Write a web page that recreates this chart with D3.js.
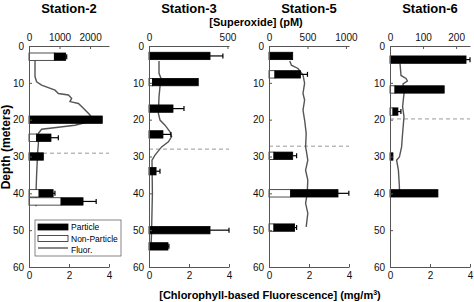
<!DOCTYPE html>
<html>
<head>
<meta charset="utf-8">
<script src="https://cdn.jsdelivr.net/npm/d3@7"></script>
<style>
  body { margin: 0; background: #fff; }
  svg text { font-family: "Liberation Sans", Arial, Helvetica, sans-serif; }
</style>
</head>
<body>
<svg id="chart" width="474" height="302"></svg>
<script>
// station names + superoxide axis range / ticks (pM)
const stationNames = ["Station-2", "Station-3", "Station-5", "Station-6"];
const soxMax = [2620, 510, 1040, 242];
const soxTicks = [[0, 1000, 2000], [0, 500], [0, 500, 1000], [0, 100, 200]];
const fluorTicks = [0, 2, 4];
const depthTicks = [0, 10, 20, 30, 40, 50, 60];

// superoxide bars: depth (m), non-particle, particle, error (pM)
const st2Depth = [2.9, 20, 24.9, 30, 40, 42.2];
const st2NonPart = [830, 0, 250, 0, 330, 1050];
const st2Part = [370, 2400, 470, 470, 460, 720];
const st2Err = [35, 0, 240, 0, 60, 430];

const st3Depth = [2.7, 9.8, 17, 24, 34, 50, 54.4];
const st3NonPart = [0, 22, 0, 0, 0, 0, 0];
const st3Part = [389, 292, 153, 89, 45, 389, 121];
const st3Err = [82, 0, 70, 51, 25, 121, 6];

const st5Depth = [2.7, 7.7, 29.8, 40, 49.3];
const st5NonPart = [0, 77, 64, 282, 64];
const st5Part = [308, 333, 244, 615, 269];
const st5Err = [0, 90, 51, 141, 26];

const st6Depth = [3.7, 11.8, 17.8, 30, 40];
const st6NonPart = [0, 15, 9, 0, 0];
const st6Part = [230, 149, 15, 9, 145];
const st6Err = [12, 0, 9, 0, 0];

// chlorophyll fluorescence profiles (mg/m3)
const fl2Depth = [4.0, 8.3, 9.7, 10.6, 12, 12.9, 13.3, 14.2, 15.1, 15.6, 16.9, 18.75, 19.4, 20.6, 21.5, 22.6, 23.7, 26.4, 29.1, 35, 40, 43.5];
const fl2Val = [0.3, 0.3, 0.38, 0.63, 1.3, 1.47, 1.97, 2.13, 2.05, 2.47, 2.72, 3.05, 3.13, 2.97, 2.3, 0.63, 0.47, 0.47, 0.43, 0.38, 0.35, 0.35];

const fl3Depth = [4.1, 7.4, 8.8, 11, 13.8, 18.3, 20.1, 21.5, 23.3, 24.6, 26, 27.4, 29.6, 31, 40, 50, 55];
const fl3Val = [0.5, 0.5, 0.6, 0.55, 0.5, 0.47, 0.55, 0.8, 1.05, 1.13, 0.97, 0.63, 0.3, 0.15, 0.17, 0.13, 0.1];

const fl5Depth = [4.1, 5.2, 6.1, 7.9, 10.1, 12.9, 14.7, 17.4, 20.1, 23.7, 27.4, 28.3, 31, 33.7, 36.4, 40, 42.7, 45.4, 49.1];
const fl5Val = [1.04, 1.12, 1.45, 1.7, 1.78, 1.7, 1.78, 1.7, 1.78, 1.86, 1.83, 1.86, 1.94, 1.83, 1.94, 1.91, 1.83, 1.94, 1.86];

const fl6Depth = [4.7, 8.0, 8.8, 9.5, 10.3, 12.9, 16.5, 19.2, 23.7, 27.4, 30.1, 31, 33.7, 38.2, 40];
const fl6Val = [0.5, 0.55, 0.8, 0.87, 0.65, 0.7, 0.63, 0.7, 0.63, 0.58, 0.47, 0.33, 0.42, 0.47, 0.47];

// depth of the dashed line in each panel
const mixedDepth = [29.1, 28, 27.2, 19.8];

const barDepths = [st2Depth, st3Depth, st5Depth, st6Depth];
const nonParts = [st2NonPart, st3NonPart, st5NonPart, st6NonPart];
const parts = [st2Part, st3Part, st5Part, st6Part];
const errs = [st2Err, st3Err, st5Err, st6Err];
const flDepths = [fl2Depth, fl3Depth, fl5Depth, fl6Depth];
const flVals = [fl2Val, fl3Val, fl5Val, fl6Val];

const svg = d3.select("#chart");
const plotTop = 46, plotBottom = 267;
const panelLeft = [29, 149, 269, 390];
const panelWidth = 80;
const barHalf = 1; // half bar thickness in meters
const axisColor = "#555";
const plain = d => String(d);

const y = d3.scaleLinear().domain([0, 60]).range([plotTop, plotBottom]);

stationNames.forEach((name, i) => {
    const x0 = panelLeft[i], x1 = x0 + panelWidth;
    const xs = d3.scaleLinear().domain([0, soxMax[i]]).range([x0, x1]);
    const xf = d3.scaleLinear().domain([0, 4]).range([x0, x1]);
    const g = svg.append("g");

    // dashed line
    g.append("line")
        .attr("x1", x0).attr("x2", x1)
        .attr("y1", y(mixedDepth[i])).attr("y2", y(mixedDepth[i]))
        .attr("stroke", "#999").attr("stroke-width", 1)
        .attr("stroke-dasharray", "4,3");

    // fluorescence profile
    const pts = flDepths[i].map((d, k) => [d, flVals[i][k]]);
    g.append("path")
        .datum(pts)
        .attr("fill", "none")
        .attr("stroke", "#555")
        .attr("stroke-width", 1.4)
        .attr("d", d3.line().x(d => xf(d[1])).y(d => y(d[0])));

    // bars
    const rows = barDepths[i].map((d, k) => ({
        depth: d, non: nonParts[i][k], part: parts[i][k], err: errs[i][k]
    }));

    const bars = g.selectAll(".bar").data(rows).enter().append("g");

    bars.filter(d => d.non > 0).append("rect")
        .attr("x", xs(0))
        .attr("y", d => y(d.depth - barHalf))
        .attr("width", d => xs(d.non) - xs(0))
        .attr("height", y(2 * barHalf) - y(0))
        .attr("fill", "#fff").attr("stroke", "#222").attr("stroke-width", 0.8);

    bars.append("rect")
        .attr("x", d => xs(d.non))
        .attr("y", d => y(d.depth - barHalf))
        .attr("width", d => xs(d.non + d.part) - xs(d.non))
        .attr("height", y(2 * barHalf) - y(0))
        .attr("fill", "#000").attr("stroke", "#000").attr("stroke-width", 0.8);

    // error bars
    const eb = bars.filter(d => d.err > 0);
    eb.append("line")
        .attr("x1", d => xs(d.non + d.part)).attr("x2", d => xs(d.non + d.part + d.err))
        .attr("y1", d => y(d.depth)).attr("y2", d => y(d.depth))
        .attr("stroke", "#000").attr("stroke-width", 1.2);
    eb.append("line")
        .attr("x1", d => xs(d.non + d.part + d.err)).attr("x2", d => xs(d.non + d.part + d.err))
        .attr("y1", d => y(d.depth) - 2.5).attr("y2", d => y(d.depth) + 2.5)
        .attr("stroke", "#000").attr("stroke-width", 1.2);

    // axes
    const top = g.append("g")
        .attr("transform", `translate(0,${plotTop})`)
        .call(d3.axisTop(xs).tickValues(soxTicks[i]).tickFormat(plain)
            .tickSize(-3).tickSizeOuter(0).tickPadding(5));
    const bottom = g.append("g")
        .attr("transform", `translate(0,${plotBottom})`)
        .call(d3.axisBottom(xf).tickValues(fluorTicks).tickFormat(plain)
            .tickSize(-3).tickSizeOuter(0).tickPadding(5));
    const left = g.append("g")
        .attr("transform", `translate(${x0},0)`)
        .call(d3.axisLeft(y).tickValues(depthTicks).tickFormat(plain)
            .tickSize(-3).tickSizeOuter(0).tickPadding(5));

    [top, bottom, left].forEach(a => {
        a.select(".domain").attr("stroke", axisColor);
        a.selectAll(".tick line").attr("stroke", axisColor);
        a.selectAll("text").attr("font-size", 10).attr("fill", "#111")
            .style("font-family", '"Liberation Sans", Arial, sans-serif');
    });

    // station title
    svg.append("text")
        .attr("x", (x0 + x1) / 2).attr("y", 13)
        .attr("text-anchor", "middle")
        .attr("font-size", 13).attr("font-weight", "bold")
        .text(name);
});

// axis titles
svg.append("text")
    .attr("x", 256).attr("y", 26)
    .attr("text-anchor", "middle")
    .attr("font-size", 11).attr("font-weight", "bold")
    .text("[Superoxide] (pM)");

const fl = svg.append("text")
    .attr("x", 270).attr("y", 299)
    .attr("text-anchor", "middle")
    .attr("font-size", 11).attr("font-weight", "bold");
fl.append("tspan").text("[Chlorophyll-based Fluorescence] (mg/m");
fl.append("tspan").attr("font-size", 7).attr("dy", -4).text("3");
fl.append("tspan").attr("dy", 4).text(")");

svg.append("text")
    .attr("transform", "translate(10,147) rotate(-90)")
    .attr("text-anchor", "middle")
    .attr("font-size", 12).attr("font-weight", "bold")
    .text("Depth (meters)");

// legend
const legend = svg.append("g");
legend.append("rect")
    .attr("x", 35).attr("y", 220).attr("width", 86).attr("height", 36)
    .attr("fill", "#fff").attr("stroke", "#666").attr("stroke-width", 0.8);
legend.append("rect")
    .attr("x", 38).attr("y", 224).attr("width", 30).attr("height", 6)
    .attr("fill", "#000").attr("stroke", "#000").attr("stroke-width", 0.8);
legend.append("rect")
    .attr("x", 38).attr("y", 235.5).attr("width", 30).attr("height", 6)
    .attr("fill", "#fff").attr("stroke", "#222").attr("stroke-width", 0.8);
legend.append("line")
    .attr("x1", 38).attr("x2", 68).attr("y1", 248).attr("y2", 248)
    .attr("stroke", "#555").attr("stroke-width", 1.4);
["Particle", "Non-Particle", "Fluor."].forEach((t, k) => {
    legend.append("text")
        .attr("x", 71).attr("y", 230 + k * 11.5)
        .attr("font-size", 8.5)
        .text(t);
});
</script>
</body>
</html>
